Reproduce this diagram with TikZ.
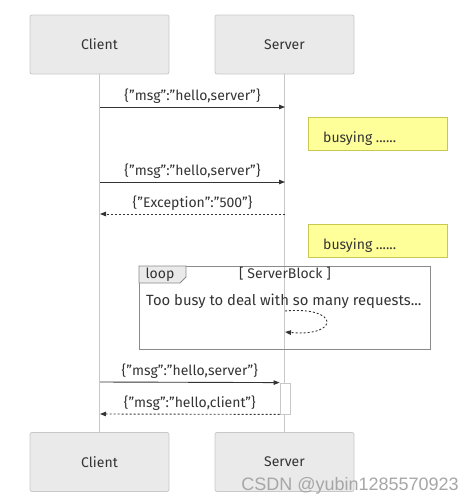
\documentclass[tikz,border=0pt]{standalone}
\usepackage{fontspec}
\setmainfont{Fira Sans}
\newfontfamily\wmfont{Liberation Sans}
\usetikzlibrary{arrows.meta}
\definecolor{txt}{HTML}{333333}
\definecolor{actfill}{HTML}{EAEAEA}
\definecolor{actline}{HTML}{C8C8C8}
\definecolor{notefill}{HTML}{FFFF99}
\definecolor{noteline}{HTML}{C8C850}
\definecolor{loopline}{HTML}{8A8A8A}
\tikzset{
  actor/.style={draw=actline, fill=actfill, rounded corners=2pt, line width=0.8pt,
    minimum width=139pt, minimum height=59pt, inner sep=0pt, text=txt, font=\fontsize{14}{16}\selectfont},
  life/.style={draw=actline, line width=1.2pt},
  msg/.style={draw=txt, line width=0.9pt, -{Triangle[length=6pt,width=4.5pt]}},
  reply/.style={msg, dash pattern=on 2pt off 2pt},
  lbl/.style={text=txt, font=\fontsize{14}{16}\selectfont, inner sep=0pt},
  notebox/.style={draw=noteline, fill=notefill, line width=0.8pt, minimum width=139pt,
    minimum height=33pt, inner sep=0pt},
  notetxt/.style={text=txt, font=\fontsize{14}{16}\selectfont, inner sep=0pt, anchor=west},
}
\begin{document}
\begin{tikzpicture}[x=1pt,y=-1pt]
\useasboundingbox (0,0) rectangle (474,504);
% actors
\node[actor] (ct) at (99.5,44.5) {Client};
\node[actor] (st) at (284.5,44.5) {Server};
\node[actor] (cb) at (99.5,462) {Client};
\node[actor] (sb) at (284.5,462) {Server};
% lifelines
\draw[life] (ct.south) -- (cb.north);
\draw[life] (st.south) -- (sb.north);
% coordinates on lifelines
\coordinate (c1) at (100,107); \coordinate (s1) at (285,107);
\coordinate (c2) at (100,182); \coordinate (s2) at (285,182);
\coordinate (c3) at (100,214); \coordinate (s3) at (285,214);
\coordinate (c4) at (100,382); \coordinate (s4) at (281,382);
\coordinate (c5) at (100,414); \coordinate (s5) at (280,414);
% message 1
\draw[msg] (c1) -- node[lbl, above=3pt] (m1) {\{"msg":"hello,server"\}} (s1);
% note 1
\node[notebox] (n1) at (377.5,133.5) {};
\node[notetxt] (n1t) at (323,139) {busying ......};
% message 2
\draw[msg] (c2) -- node[lbl, above=3pt] (m2) {\{"msg":"hello,server"\}} (s2);
% message 3
\draw[reply] (s3) -- node[lbl, above=3pt] (m3) {\{"Exception":"500"\}} (c3);
% note 2
\node[notebox] (n2) at (377.5,240.5) {};
\node[notetxt] (n2t) at (323,246) {busying ......};
% loop block
\draw[draw=loopline, line width=1pt] (139,266) rectangle (430,349);
\draw[draw=loopline, fill=actfill, line width=0.8pt] (139,266) -- (186,266) -- (186,277) -- (180,283) -- (139,283) -- cycle;
\node[lbl] (loopl) at (160,275) {loop};
\node[lbl] (cond) at (285,274) {[ ServerBlock ]};
\node[lbl, anchor=west, font=\fontsize{14.8}{17}\selectfont] (busy) at (146,301) {Too busy to deal with so many requests...};
\coordinate (l1) at (285,311);
\coordinate (l2) at (285,332);
\draw[reply] (l1) .. controls (340,306) and (340,337) .. (l2);
% activation
\node[draw=actline, fill=white, line width=0.8pt, minimum width=10pt, minimum height=31pt, inner sep=0pt] (act) at (285,398.5) {};
% message 4
\draw[msg] (c4) -- node[lbl, above=3pt] (m4) {\{"msg":"hello,server"\}} (act.north west);
% message 5
\draw[reply] (act.south west) -- node[lbl, above=3pt] (m5) {\{"msg":"hello,client"\}} (c5);
% watermark
\node[text=black!35, font=\wmfont\fontsize{18}{20}\selectfont, inner sep=0pt] (wm) at (350,486) {CSDN @yubin1285570923};
\end{tikzpicture}
\end{document}
